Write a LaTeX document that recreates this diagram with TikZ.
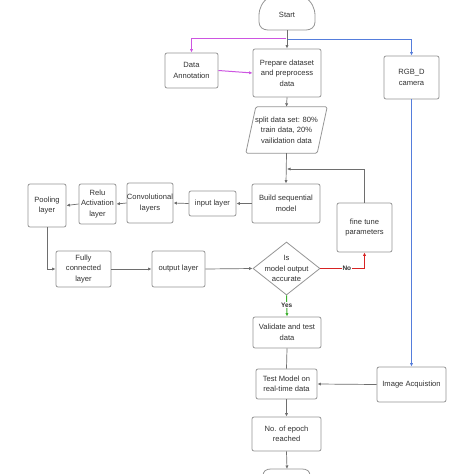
\documentclass[tikz,border=0pt]{standalone}
\usepackage{fontspec}
\setmainfont{Liberation Sans}
\usetikzlibrary{arrows.meta,shapes.geometric}
\definecolor{bordc}{RGB}{150,150,150}
\definecolor{linec}{RGB}{110,110,110}
\definecolor{txtc}{RGB}{50,50,50}
\definecolor{magc}{RGB}{205,85,225}
\definecolor{bluec}{RGB}{85,125,220}
\definecolor{redc}{RGB}{215,35,35}
\definecolor{greenc}{RGB}{60,175,45}
\tikzset{
  box/.style={draw=bordc, line width=0.8pt, rounded corners=2pt, fill=white, align=center,
    inner sep=1pt, text=txtc, font=\fontsize{7.6}{10.5}\selectfont},
  txt/.style={align=center, inner sep=0pt, text=txtc, font=\fontsize{7.6}{10.5}\selectfont},
  arr/.style={draw=linec, line width=0.7pt, -{Latex[length=3.5pt,width=3.2pt]}},
  plain/.style={draw=linec, line width=0.7pt},
  magarr/.style={color=magc, line width=1pt, -{Latex[length=3.5pt,width=3.2pt]}},
  bluearr/.style={color=bluec, line width=1pt, -{Latex[length=3.5pt,width=3.2pt]}},
  redarr/.style={color=redc, line width=1pt, -{Latex[length=3.5pt,width=3.2pt]}},
  greenarr/.style={color=greenc, line width=1pt, -{Latex[length=3.5pt,width=3.2pt]}},
  lab/.style={inner sep=0.5pt, font=\fontsize{6.5}{7}\selectfont\bfseries, text=txtc, fill=white}
}
\begin{document}
\begin{tikzpicture}[x=1pt,y=-1pt]
\useasboundingbox (0,0) rectangle (474,474);
\fill[white] (0,0) rectangle (474,474);
\clip (0,0) rectangle (474,474);

% start shape
\draw[draw=bordc, line width=0.8pt, fill=white]
  (270,-4) .. controls (262,2) and (259,8) .. (259,16)
  -- (259,22) .. controls (259,27) and (263,30) .. (268,30)
  -- (306,30) .. controls (311,30) and (315,27) .. (315,22)
  -- (315,16) .. controls (315,8) and (312,2) .. (304,-4);
\node[txt] (start) at (287,15) {Start};
\coordinate (startb) at (287,30);

% end shape
\draw[draw=bordc, line width=0.8pt, fill=white]
  (263,480) -- (263,476) .. controls (263,471) and (266,469) .. (271,469)
  -- (302,469) .. controls (307,469) and (310,471) .. (310,476) -- (310,480);
\coordinate (endt) at (287,469);

% nodes
\node[box, minimum width=53pt, minimum height=35pt] (annot) at (191.5,70.5) {Data\\Annotation};
\node[box, minimum width=68pt, minimum height=48pt] (prep) at (287,73) {Prepare dataset\\and preprocess\\data};
\node[box, minimum width=55pt, minimum height=43pt] (rgbd) at (411.5,77.5) {RGB\_D\\camera};
\node[inner sep=0pt, minimum width=71pt, minimum height=46pt] (split) at (286.5,130) {};
\draw[draw=bordc, line width=0.8pt, fill=white, rounded corners=1.5pt]
  ([xshift=5pt]split.north west) -- ([xshift=5pt]split.north east)
  -- ([xshift=-5pt]split.south east) -- ([xshift=-5pt]split.south west) -- cycle;
\node[txt] at (split) {split data set: 80\%\\train data, 20\%\\vailidation data};
\node[box, minimum width=68pt, minimum height=39pt] (build) at (286,203.5) {Build sequential\\model};
\node[box, minimum width=47pt, minimum height=25pt] (input) at (212.5,203.5) {input layer};
\node[box, minimum width=44pt, minimum height=40pt, inner sep=0pt] (conv) at (150,203) {Convolutional\\layers};
\node[box, minimum width=37pt, minimum height=40pt, inner sep=0pt] (relu) at (97.5,204) {Relu\\Activation\\layer};
\node[box, minimum width=38pt, minimum height=43pt] (pool) at (47,205.5) {Pooling\\layer};
\node[box, minimum width=55pt, minimum height=49pt] (fine) at (364.5,227.5) {fine tune\\parameters};
\node[box, minimum width=55pt, minimum height=36pt] (fc) at (83.5,269) {Fully\\connected\\layer};
\node[box, minimum width=53pt, minimum height=36pt] (outl) at (178.5,269) {output layer};
\node[diamond, draw=bordc, line width=0.8pt, fill=white, inner sep=0pt,
      minimum width=67pt, minimum height=53pt] (dec) at (286.5,268.5) {};
\node[txt] at (dec) {Is\\model output\\accurate};
\node[box, minimum width=68pt, minimum height=31pt] (valid) at (287,332.5) {Validate and test\\data};
\node[box, minimum width=61pt, minimum height=30pt] (test) at (286.5,384) {Test Model on\\real-time data};
\node[box, minimum width=69pt, minimum height=35pt] (imgacq) at (411.5,384.5) {Image Acquistion};
\node[box, minimum width=69pt, minimum height=34pt] (epoch) at (286.5,434) {No. of epoch\\reached};

% junctions
\coordinate (jmag) at (286,38);
\coordinate (jblue) at (288,39);
\coordinate (jloop) at (287,169);

% connectors
\draw[magarr] (jmag) -| (annot.north);
\draw[bluearr] (jblue) -| (rgbd.north);
\draw[arr] (startb) -- (prep.north);
\draw[magarr] (annot.east) -- (prep.west);
\draw[arr] (prep.south) -- (split.north);
\draw[arr] (split.south) -- (build.north);
\draw[arr] (fine.north) |- (jloop);
\draw[arr] (build.west) -- (input.east);
\draw[arr] (input.west) -- (conv.east);
\draw[arr] (conv.west) -- (relu.east);
\draw[arr] (relu.west) -- (pool.east);
\draw[arr] (pool.south) |- (fc.west);
\draw[arr] (fc.east) -- (outl.west);
\draw[arr] (outl.east) -- (dec.west);
\draw[redarr] (dec.east) -| node[lab, pos=0.3] (nolab) {No} (fine.south);
\draw[greenarr] (dec.south) -- node[lab, pos=0.45] (yeslab) {Yes} (valid.north);
\draw[plain] (valid.south) -- (test.north);
\draw[arr] (test.south) -- (epoch.north);
\draw[arr] (epoch.south) -- (endt);
\draw[bluearr] (rgbd.south) -- (imgacq.north);
\draw[arr] (imgacq.west) -- (test.east);
\end{tikzpicture}
\end{document}
